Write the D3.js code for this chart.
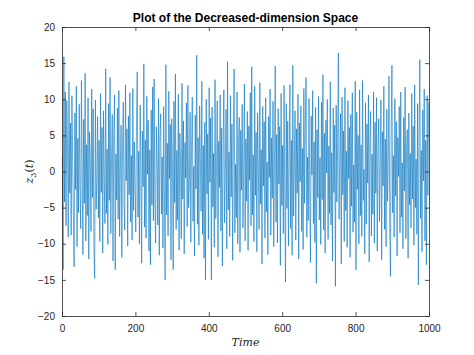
<!DOCTYPE html>
<html><head><meta charset="utf-8">
<script src="https://cdn.jsdelivr.net/npm/d3@7/dist/d3.min.js"></script>
<style>body{margin:0;background:#fff;}</style>
</head><body>
<script>
const titleText = "Plot of the Decreased-dimension Space";
const timeStart = 1, timeStep = 2;
const values = [
2.1,-13.6,15.9,-4.2,11.0,-7.5,9.8,3.2,-9.1,12.4,-3.0,6.7,-8.8,10.5,1.4,-6.2,-13.2,8.1,-2.5,11.8,-10.4,4.6,-5.7,9.3,-1.8,
-7.9,12.6,0.8,-11.5,7.2,-4.4,13.6,-9.6,3.7,-6.1,10.2,-12.1,5.5,1.9,-8.3,11.4,-3.6,8.7,-10.8,-14.8,9.9,-5.2,-1.1,7.6,-6.4,
4.3,-9.7,10.8,-2.9,6.1,-11.3,8.4,-0.6,-7.2,14.2,-5.8,3.1,-10.1,9.4,-4.0,13.0,-8.6,1.7,7.9,-12.4,5.0,10.6,-13.6,2.4,-3.9,
8.8,-6.6,11.2,-9.0,0.3,6.4,-11.9,3.5,9.6,-4.8,-8.1,12.0,-1.3,5.9,-10.3,7.7,-3.2,10.9,-7.0,2.2,-9.5,11.5,-5.4,4.1,-1.6,
-8.4,6.9,13.8,-6.3,2.8,-10.0,9.2,0.9,-12.7,5.6,-2.1,14.9,-7.7,4.4,-9.2,10.4,-0.4,7.1,-11.0,3.0,-12.9,8.5,-4.6,11.7,-6.8,
12.8,-3.4,-9.9,6.2,1.2,-7.4,10.1,-11.6,4.8,8.0,-5.9,2.0,-10.6,9.0,-2.7,-15.0,14.8,-6.0,3.9,-8.9,11.1,-1.0,6.5,-12.2,7.3,
0.5,-13.6,9.7,-4.3,13.5,-8.0,2.9,-6.7,10.7,-10.9,5.3,1.5,-9.3,12.2,-3.8,7.0,-11.4,4.0,-0.9,9.5,-7.6,11.9,-5.0,-1.9,8.2,
-9.8,3.3,10.3,-6.9,0.7,-11.7,7.8,-2.4,16.1,-7.3,4.7,-10.2,9.1,1.8,-5.5,12.5,-8.7,3.6,-12.0,6.8,-15.0,10.0,-3.1,5.2,-9.4,
11.6,-1.5,7.4,-15.0,8.9,-4.9,2.5,-10.5,12.7,-6.5,0.2,9.8,-11.8,4.2,-2.2,10.6,-8.2,6.0,-13.1,3.4,11.3,-7.1,-0.3,8.6,-10.7,
15.2,-5.3,2.7,-9.0,10.5,-3.5,6.6,-12.3,4.9,14.2,-8.5,1.0,-6.4,11.0,-10.0,3.8,7.5,-11.2,5.7,-2.6,9.3,-7.8,0.4,12.1,-9.6,
4.5,-4.1,8.3,-10.9,6.3,-1.2,10.9,-7.5,14.5,-6.0,2.3,-9.7,11.8,-3.3,5.4,-11.1,8.1,0.6,-8.0,12.3,-4.5,3.0,-12.8,9.0,-2.0,
6.9,-9.2,10.2,-5.6,1.3,-11.5,7.6,-0.8,11.4,-8.8,4.6,-3.7,9.7,-10.4,2.1,14.6,-7.0,5.1,-9.9,8.7,-1.7,6.2,-13.0,10.8,-4.7,
3.6,-8.6,11.9,-2.8,-15.3,9.4,-5.1,7.0,-10.3,1.6,12.0,-7.9,4.3,-11.6,14.7,-6.2,0.1,8.4,-9.5,5.9,-3.0,10.7,-12.1,6.7,-1.4,
9.1,-8.3,3.2,-10.8,11.5,-4.4,6.0,13.0,-9.1,2.0,-6.8,10.1,-2.3,-12.6,7.7,-0.5,11.2,-7.2,4.1,-9.8,8.9,-15.5,5.8,-3.6,10.4,
-6.7,1.9,-10.1,9.6,-3.9,13.4,-8.1,5.3,-11.3,7.1,-0.2,10.0,-9.4,3.5,-5.8,12.4,-7.4,2.6,-12.4,8.8,-2.9,6.4,-15.9,9.2,-4.2,
4.0,16.4,-6.6,1.1,8.0,-12.8,10.3,-3.2,5.6,-9.7,11.6,-5.4,2.8,-10.5,9.8,-1.0,6.1,-11.9,7.9,-4.8,10.9,-8.4,0.9,-7.0,12.5,
-13.6,8.2,-2.5,5.0,-10.0,11.3,-6.1,3.7,-9.0,12.6,-4.0,0.3,-11.4,9.5,-7.3,6.6,-1.6,10.6,-12.5,4.4,8.3,-8.9,2.4,-5.9,11.0,
-9.9,6.8,-3.0,10.2,-11.0,3.1,7.3,-6.9,0.7,9.9,-12.2,5.5,-2.0,11.8,-8.0,4.5,-10.4,8.6,-4.1,1.4,13.2,-7.6,-14.5,6.0,14.7,
-5.7,2.2,-9.1,10.1,-3.4,6.9,-11.7,4.7,-0.7,9.0,-8.5,11.0,-6.3,1.2,-10.7,7.5,-2.7,11.7,-9.3,3.9,5.8,-12.0,8.1,-4.6,2.5,
-7.8,10.8,-3.8,6.3,-10.2,12.0,-5.0,1.7,-8.7,9.4,-15.7,4.9,15.5,-6.5,2.9,-11.1,8.5,-1.3,11.4,-9.6,4.3,-12.9,10.5,-3.3,9.6
];
const xTicks = [0,200,400,600,800,1000];
const yTicks = [-20,-15,-10,-5,0,5,10,15,20];
const xDomain = [0,1000], yDomain = [-20,20];

const W = 474, H = 355;
const L = 62, R = 429, T = 27, B = 316;
const axisColor = "#262626";
const lineColor = "#0072BD";

const svg = d3.select("body").append("svg").attr("width", W).attr("height", H)
  .style("font-family", "Arial, 'Liberation Sans', Helvetica, sans-serif");

const x = d3.scaleLinear().domain(xDomain).range([L, R]);
const y = d3.scaleLinear().domain(yDomain).range([B, T]);

const data = values.map((v, i) => ({t: timeStart + i * timeStep, v}));

svg.append("path").datum(data)
  .attr("fill", "none").attr("stroke", lineColor).attr("stroke-width", 0.6)
  .attr("stroke-linejoin", "round")
  .attr("d", d3.line().x(d => x(d.t)).y(d => y(d.v)));

function styleAxis(g) {
  g.selectAll("path.domain").attr("stroke", axisColor).attr("stroke-width", 0.8);
  g.selectAll(".tick line").attr("stroke", axisColor).attr("stroke-width", 0.8);
  g.selectAll(".tick text").attr("fill", axisColor).style("font-size", "10px")
    .style("font-family", "Arial, 'Liberation Sans', Helvetica, sans-serif");
}

svg.append("g").attr("transform", `translate(0,${B})`)
  .call(d3.axisBottom(x).tickValues(xTicks).tickSize(-4).tickSizeOuter(0).tickPadding(9).tickFormat(d3.format("d")))
  .call(styleAxis);
svg.append("g").attr("transform", `translate(0,${T})`)
  .call(d3.axisTop(x).tickValues(xTicks).tickSize(-4).tickSizeOuter(0).tickFormat(""))
  .call(styleAxis);
svg.append("g").attr("transform", `translate(${L},0)`)
  .call(d3.axisLeft(y).tickValues(yTicks).tickSize(-4).tickSizeOuter(0).tickPadding(7).tickFormat(d3.format("d")))
  .call(styleAxis);
svg.append("g").attr("transform", `translate(${R},0)`)
  .call(d3.axisRight(y).tickValues(yTicks).tickSize(-4).tickSizeOuter(0).tickFormat(""))
  .call(styleAxis);

svg.append("text").attr("x", (L + R) / 2).attr("y", 22)
  .attr("text-anchor", "middle").attr("fill", "#000")
  .style("font-size", "12px").style("font-weight", "bold")
  .text(titleText);

svg.append("text").attr("x", (L + R) / 2).attr("y", 346)
  .attr("text-anchor", "middle").attr("fill", axisColor)
  .style("font-family", "'DejaVu Serif', 'Liberation Serif', serif")
  .style("font-style", "italic").style("font-size", "11px")
  .text("Time");

const yl = svg.append("text")
  .attr("transform", `translate(33,${(T + B) / 2}) rotate(-90)`)
  .attr("text-anchor", "middle").attr("fill", axisColor)
  .style("font-family", "'DejaVu Serif', 'Liberation Serif', serif")
  .style("font-size", "11px");
yl.append("tspan").style("font-style", "italic").text("z");
yl.append("tspan").attr("dy", 3).style("font-size", "8px").text("3");
yl.append("tspan").attr("dy", -3).text("(");
yl.append("tspan").style("font-style", "italic").text("t");
yl.append("tspan").text(")");
</script>
</body></html>
